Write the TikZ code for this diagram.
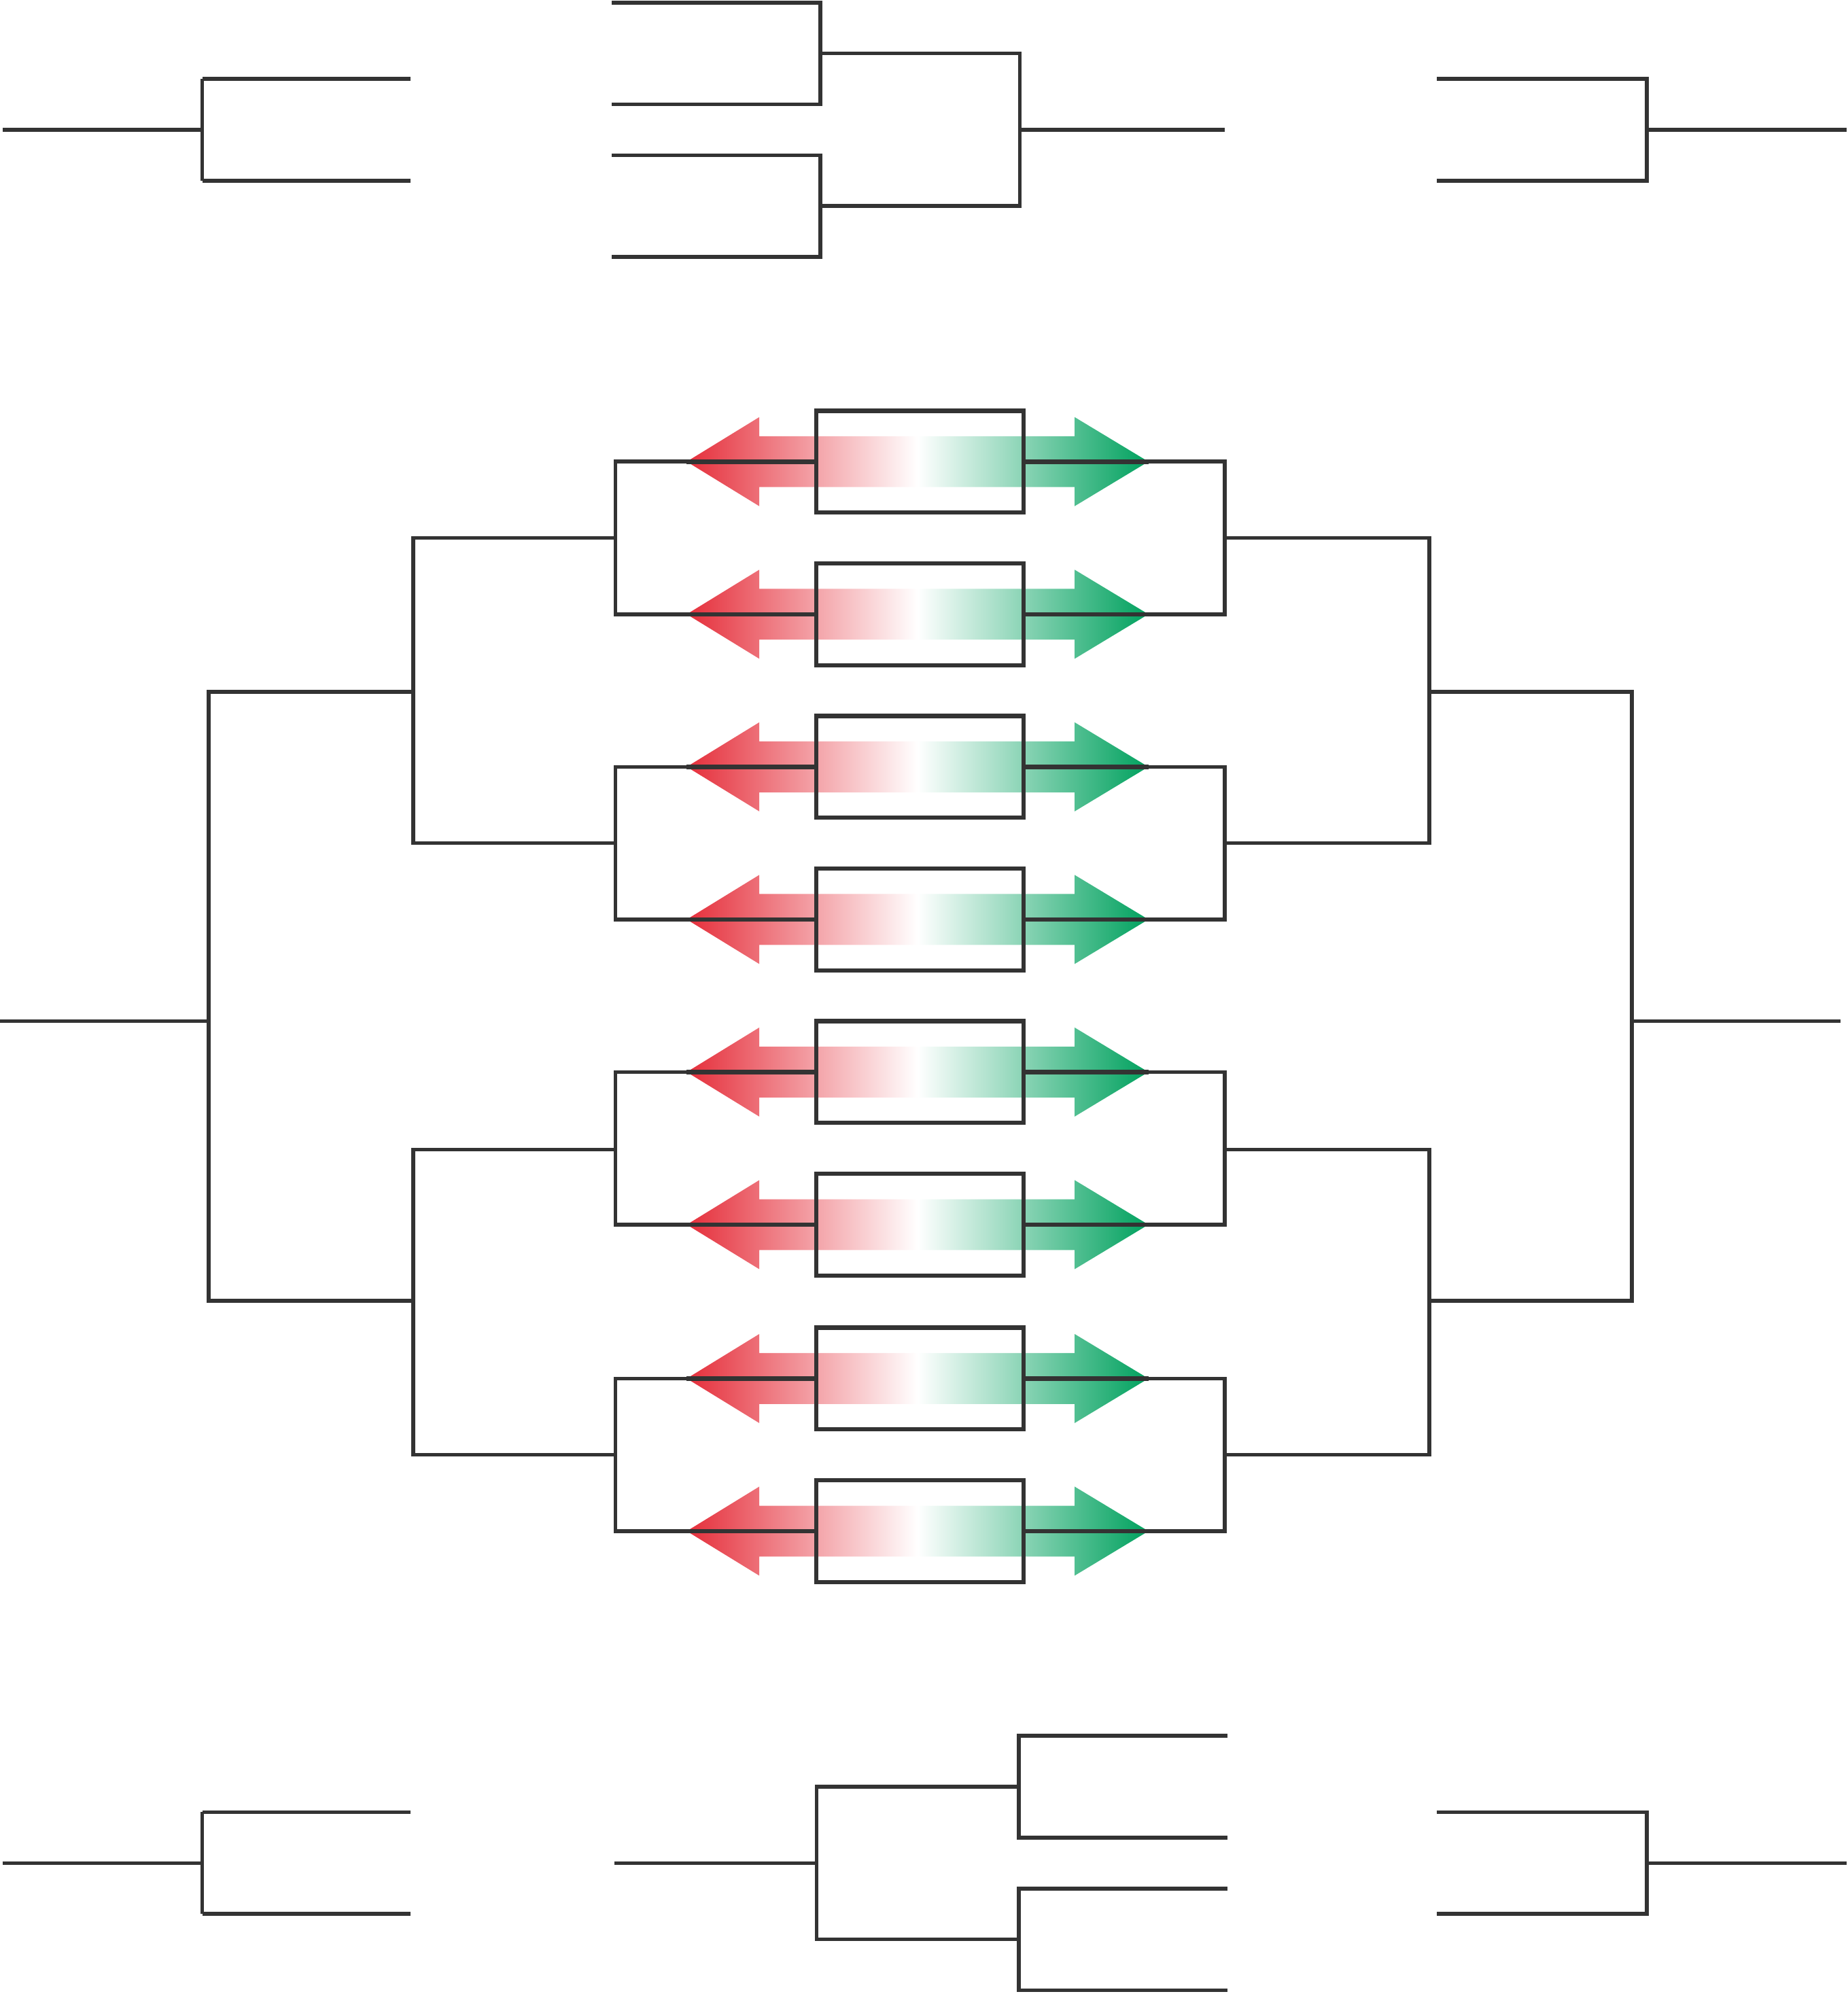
\documentclass[tikz,border=0pt]{standalone}
\definecolor{ln}{HTML}{333333}
\definecolor{rd}{HTML}{E52E3A}
\definecolor{gn}{HTML}{00A15E}
\begin{document}
\begin{tikzpicture}[x=0.1mm,y=-0.1mm,line width=0.85pt,
  br/.style={draw=ln},
  mbox/.style={draw=ln,line width=0.95pt}]
\useasboundingbox (0,0) rectangle (1453,1568);
% top left
\draw[br] (2,102)--(159,102) (159,62)--(159,142) (159,62)--(323,62) (159,142)--(323,142);
% top center
\draw[br] (481,2)--(645,2)--(645,82)--(481,82) (481,122)--(645,122)--(645,202)--(481,202)
 (645,42)--(802,42)--(802,162)--(645,162) (802,102)--(963,102);
% top right
\draw[br] (1130,62)--(1295,62)--(1295,142)--(1130,142) (1295,102)--(1452,102);
% bottom left
\draw[br] (2,1465)--(159,1465) (159,1425)--(159,1505) (159,1425)--(323,1425) (159,1505)--(323,1505);
% bottom center
\draw[br] (483,1465)--(642,1465) (801,1405)--(642,1405)--(642,1525)--(801,1525)
 (965,1365)--(801,1365)--(801,1445)--(965,1445) (965,1485)--(801,1485)--(801,1565)--(965,1565);
% bottom right
\draw[br] (1130,1425)--(1295,1425)--(1295,1505)--(1130,1505) (1295,1465)--(1452,1465);
% main bracket left
\draw[br] (0,803)--(164,803) (325,544)--(164,544)--(164,1023)--(325,1023)
 (484,423)--(325,423)--(325,663)--(484,663) (484,904)--(325,904)--(325,1144)--(484,1144);
% main bracket right
\draw[br] (1447,803)--(1283,803) (1124,544)--(1283,544)--(1283,1023)--(1124,1023)
 (963,423)--(1124,423)--(1124,663)--(963,663) (963,904)--(1124,904)--(1124,1144)--(963,1144);
\foreach \a/\b in {363/483,603/723,843/963,1084/1204}{
  \draw[br] (540,\a)--(484,\a)--(484,\b)--(540,\b);
  \draw[br] (903,\a)--(963,\a)--(963,\b)--(903,\b);
}
\foreach \c [count=\i] in {363,483,603,723,843,963,1084,1204}{
  \shade[left color=rd,right color=gn,middle color=white]
   (540,\c)--(597,\c-35)--(597,\c-20)--(845,\c-20)--(845,\c-35)--(903,\c)
   --(845,\c+35)--(845,\c+20)--(597,\c+20)--(597,\c+35)--cycle;
  \draw[ln,line width=1pt] (540,\c)--(642,\c) (805,\c)--(903,\c);
  \node[mbox,minimum width=16.3mm,minimum height=8mm,inner sep=0pt] (b\i) at (723.5,\c) {};
}
\end{tikzpicture}
\end{document}
